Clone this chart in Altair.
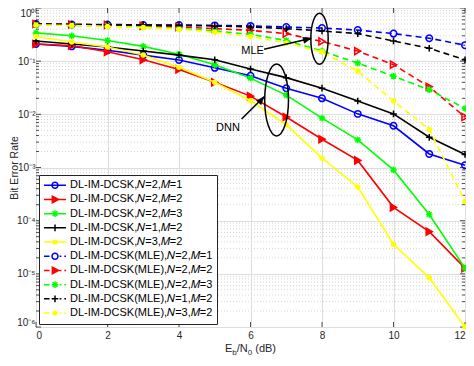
import math
import altair as alt
import pandas as pd

# ---------------- data ----------------
snr = list(range(13))
x_ticks = [0, 2, 4, 6, 8, 10, 12]
y_decades = [1, 1e-1, 1e-2, 1e-3, 1e-4, 1e-5, 1e-6]
y_tick_labels = ["10⁰", "10⁻¹", "10⁻²", "10⁻³", "10⁻⁴", "10⁻⁵", "10⁻⁶"]
y_minor_mult = [2, 3, 4, 5, 6, 7, 8, 9]

NI = "\U0001D441"  # italic N
MI = "\U0001D440"  # italic M
series_names = [
    f"DL-IM-DCSK,{NI}=2,{MI}=1",
    f"DL-IM-DCSK,{NI}=2,{MI}=2",
    f"DL-IM-DCSK,{NI}=2,{MI}=3",
    f"DL-IM-DCSK,{NI}=1,{MI}=2",
    f"DL-IM-DCSK,{NI}=3,{MI}=2",
    f"DL-IM-DCSK(MLE),{NI}=2,{MI}=1",
    f"DL-IM-DCSK(MLE),{NI}=2,{MI}=2",
    f"DL-IM-DCSK(MLE),{NI}=2,{MI}=3",
    f"DL-IM-DCSK(MLE),{NI}=1,{MI}=2",
    f"DL-IM-DCSK(MLE),{NI}=3,{MI}=2",
]

dnn_n2m1 = [0.21, 0.19, 0.16, 0.13, 0.105, 0.075, 0.053, 0.031, 0.02, 0.0102, 0.0061, 0.0018, 0.0011]
dnn_n2m2 = [0.21, 0.195, 0.15, 0.106, 0.07, 0.04, 0.022, 0.0089, 0.0034, 0.00136, 0.000178, 0.000062, 0.0000128]
dnn_n2m3 = [0.34, 0.30, 0.245, 0.19, 0.135, 0.086, 0.048, 0.023, 0.0085, 0.0033, 0.0009, 0.000131, 0.0000128]
dnn_n1m2 = [0.24, 0.21, 0.185, 0.155, 0.13, 0.106, 0.071, 0.049, 0.031, 0.0178, 0.0102, 0.0037, 0.00176]
dnn_n3m2 = [0.29, 0.23, 0.185, 0.131, 0.077, 0.04, 0.018, 0.0064, 0.0015, 0.00043, 0.000036, 0.0000084, 0.000001]
mle_n2m1 = [0.5, 0.49, 0.49, 0.48, 0.48, 0.47, 0.46, 0.44, 0.42, 0.385, 0.33, 0.27, 0.2]
mle_n2m2 = [0.5, 0.49, 0.48, 0.46, 0.44, 0.41, 0.38, 0.33, 0.235, 0.155, 0.086, 0.033, 0.0089]
mle_n2m3 = [0.48, 0.47, 0.46, 0.44, 0.41, 0.37, 0.32, 0.245, 0.155, 0.092, 0.052, 0.029, 0.0129]
mle_n1m2 = [0.5, 0.49, 0.48, 0.48, 0.47, 0.46, 0.44, 0.41, 0.37, 0.33, 0.24, 0.175, 0.106]
mle_n3m2 = [0.48, 0.47, 0.45, 0.43, 0.40, 0.35, 0.29, 0.22, 0.15, 0.065, 0.0178, 0.0052, 0.00023]
series_values = [dnn_n2m1, dnn_n2m2, dnn_n2m3, dnn_n1m2, dnn_n3m2,
                 mle_n2m1, mle_n2m2, mle_n2m3, mle_n1m2, mle_n3m2]

# ---------------- styles ----------------
W, H = 429, 319
PAD = {"left": 28, "top": 0, "right": 1, "bottom": 31}
FONT = "Liberation Sans"
TXT = "#262626"
GRID = "#dedede"
cols = ["#0000ff", "#ff0000", "#00ff00", "#000000", "#ffff00"]
series_colors = cols + cols
dashed = [False] * 5 + [True] * 5

P_CIRCLE = "circle"
P_TRI = "triangle-right"
P_AST = "M-1,0L1,0M0,-1L0,1M-0.72,-0.72L0.72,0.72M-0.72,0.72L0.72,-0.72"
P_PLUS = "M-1,0L1,0M0,-1L0,1"
marker_shape = [P_CIRCLE, P_TRI, P_AST, P_PLUS, "circle"] * 2
marker_size = [42, 50, 44, 45, 16, 42, 50, 44, 45, 16]
marker_fill = ["transparent", "#ff0000", "#00ff00", "transparent", "#ffff00",
               "transparent", "transparent", "#00ff00", "transparent", "#ffff00"]

# legend symbols: line + marker, in units of 11 px
L_SOLID = "M-1,0L1,0"
L_DASH = "M-1,0L-0.5,0M0.42,0L0.58,0M0.85,0L1,0"
m_circ = "M0.27,0A0.27,0.27 0 1,1 -0.27,0A0.27,0.27 0 1,1 0.27,0Z"
m_tri = "M0.32,0L-0.24,-0.3L-0.24,0.3Z"
m_ast = "M-0.3,0L0.3,0M0,-0.3L0,0.3M-0.22,-0.22L0.22,0.22M-0.22,0.22L0.22,-0.22"
m_plus = "M-0.3,0L0.3,0M0,-0.3L0,0.3"
m_dot = "M0.17,0A0.17,0.17 0 1,1 -0.17,0A0.17,0.17 0 1,1 0.17,0Z"
leg_marks = [m_circ, m_tri, m_ast, m_plus, m_dot] * 2
legend_paths = [(L_DASH if d else L_SOLID) + m for d, m in zip(dashed, leg_marks)]
legend_fills = ["transparent", "#ff0000", "#00ff00", "transparent", "#ffff00"] * 2

label_expr = "[" + ",".join(f"'{t}'" for t in y_tick_labels) + "][round(-log(datum.value)/LN10)]"

xaxis = alt.Axis(values=x_ticks, grid=True, gridColor=GRID, ticks=False, domain=False,
                 labelFontSize=10, labelPadding=3, labelColor=TXT, title=None, labelFont=FONT,
                 labelFlush=True)
yaxis = alt.Axis(values=y_decades, grid=True, gridColor=GRID, ticks=False, domain=False,
                 labelFontSize=10, labelPadding=1, labelColor=TXT, labelExpr=label_expr,
                 labelFont=FONT, labelFlush=True, title="Bit Error Rate", titleFontSize=10.5,
                 titleFontWeight="normal", titleColor=TXT, titleFont=FONT,
                 titleX=-22, titleY=H / 2, titleBaseline="middle", titleAngle=270)


def X():
    return alt.X("snr:Q", scale=alt.Scale(domain=[0, 12], nice=False, zero=False), axis=xaxis)


def Y():
    return alt.Y("ber:Q", scale=alt.Scale(type="log", domain=[1e-6, 1], nice=False), axis=yaxis)


layers = []

# minor grid (dotted)
minor_vals = [m * d for d in y_decades[1:] for m in y_minor_mult]
minor_df = pd.DataFrame({"ber": minor_vals})
layers.append(alt.Chart(minor_df).mark_rule(color="#d6d6d6", strokeDash=[1, 2], strokeWidth=1)
              .encode(y=Y()))

# inward ticks
dec_df = pd.DataFrame({"ber": y_decades})
for df_, ln in [(dec_df, 5), (minor_df, 3)]:
    layers.append(alt.Chart(df_).mark_rule(color=TXT, strokeWidth=0.8)
                  .encode(y=Y(), x=alt.value(0), x2=alt.value(ln)))
    layers.append(alt.Chart(df_).mark_rule(color=TXT, strokeWidth=0.8)
                  .encode(y=Y(), x=alt.value(W - ln), x2=alt.value(W)))
xt_df = pd.DataFrame({"snr": x_ticks})
layers.append(alt.Chart(xt_df).mark_rule(color=TXT, strokeWidth=0.8)
              .encode(x=X(), y=alt.value(H - 5), y2=alt.value(H)))
layers.append(alt.Chart(xt_df).mark_rule(color=TXT, strokeWidth=0.8)
              .encode(x=X(), y=alt.value(0), y2=alt.value(5)))

# series
for i, name in enumerate(series_names):
    df = pd.DataFrame({"snr": snr, "ber": series_values[i]})
    kw = dict(color=series_colors[i], strokeWidth=1.6)
    if dashed[i]:
        kw["strokeDash"] = [6, 4]
    layers.append(alt.Chart(df).mark_line(**kw).encode(x=X(), y=Y()))
    layers.append(alt.Chart(df).mark_point(shape=marker_shape[i], size=marker_size[i],
                                           fill=marker_fill[i], stroke=series_colors[i],
                                           strokeWidth=1.5, opacity=1)
                  .encode(x=X(), y=Y()))

# annotations
ell_df = pd.DataFrame({"snr": [7.93], "ber": [0.265]})
layers.append(alt.Chart(ell_df).mark_point(
    shape="M0,-1A0.34,1 0 1,1 0,1A0.34,1 0 1,1 0,-1Z", size=51 ** 2,
    stroke="black", fill="transparent", strokeWidth=1.5, opacity=1).encode(x=X(), y=Y()))
ell2_df = pd.DataFrame({"snr": [6.73], "ber": [0.0187]})
layers.append(alt.Chart(ell2_df).mark_point(
    shape="M0,-1A0.33,1 0 1,1 0,1A0.33,1 0 1,1 0,-1Z", size=72 ** 2,
    stroke="black", fill="transparent", strokeWidth=1.5, opacity=1).encode(x=X(), y=Y()))

arrows = [  # start snr, start ber, end snr, end ber, angle
    (6.38, 0.168, 7.70, 0.27, 75),
    (5.75, 0.0082, 6.38, 0.0215, 41),
]
for (sx, sy, ex, ey, ang) in arrows:
    adf = pd.DataFrame({"snr": [sx], "ber": [sy], "snr2": [ex], "ber2": [ey]})
    layers.append(alt.Chart(adf).mark_rule(color="black", strokeWidth=1.5)
                  .encode(x=X(), y=Y(), x2="snr2:Q", y2="ber2:Q"))
    hdf = pd.DataFrame({"snr": [ex], "ber": [ey]})
    layers.append(alt.Chart(hdf).mark_point(shape="M0,0L0.38,1L-0.38,1Z", size=256, angle=ang,
                                            fill="black", stroke="black", strokeWidth=0.5,
                                            opacity=1).encode(x=X(), y=Y()))

lab_df = pd.DataFrame({"snr": [6.06, 5.37], "ber": [0.157, 0.0056], "t": ["MLE", "DNN"]})
layers.append(alt.Chart(lab_df).mark_text(fontSize=11, font=FONT, color="black")
              .encode(x=X(), y=Y(), text="t:N"))

# x-axis title with subscripts
pieces = [("E", 11, 0), ("b", 8, 3), ("/N", 11, 0), ("0", 8, 3), ("(dB)", 11, 0)]
widths = [11 * 0.667, 8 * 0.556, 11 * 1.0, 8 * 0.556 + 11 * 0.278, 11 * 1.889]
x0 = W / 2 - sum(widths) / 2
one = pd.DataFrame({"a": [0]})
for (txt, fs, dy), w in zip(pieces, widths):
    layers.append(alt.Chart(one).mark_text(text=txt, fontSize=fs, font=FONT, color=TXT,
                                           align="left", baseline="alphabetic")
                  .encode(x=alt.value(x0), y=alt.value(H + 25 + dy)))
    x0 += w

# legend layer (invisible marks, drives legend)
leg_df = pd.DataFrame({"series": series_names, "snr": [0] * 10, "ber": [0.5] * 10})
legend = alt.Legend(title=None, orient="bottom-left", offset=3, padding=4,
                    strokeColor=TXT, fillColor="white", labelFont=FONT, labelFontSize=11,
                    labelColor="black", labelLimit=300, symbolSize=484,
                    symbolStrokeWidth=1.5, clipHeight=12.5, rowPadding=1.2,
                    labelOffset=3, symbolOpacity=1, cornerRadius=0)
layers.append(alt.Chart(leg_df).mark_point(opacity=0, strokeWidth=1.5).encode(
    x=X(), y=Y(),
    shape=alt.Shape("series:N", scale=alt.Scale(domain=series_names, range=legend_paths), legend=legend),
    stroke=alt.Stroke("series:N", scale=alt.Scale(domain=series_names, range=series_colors), legend=legend),
    fill=alt.Fill("series:N", scale=alt.Scale(domain=series_names, range=legend_fills), legend=legend),
))

chart = (alt.layer(*layers)
         .properties(width=W, height=H, padding=PAD,
                     autosize=alt.AutoSizeParams(type="none"))
         .configure(font=FONT)
         .configure_view(stroke=TXT, strokeWidth=1))

chart.save("out.html", embed_options={"renderer": "svg", "actions": False})
